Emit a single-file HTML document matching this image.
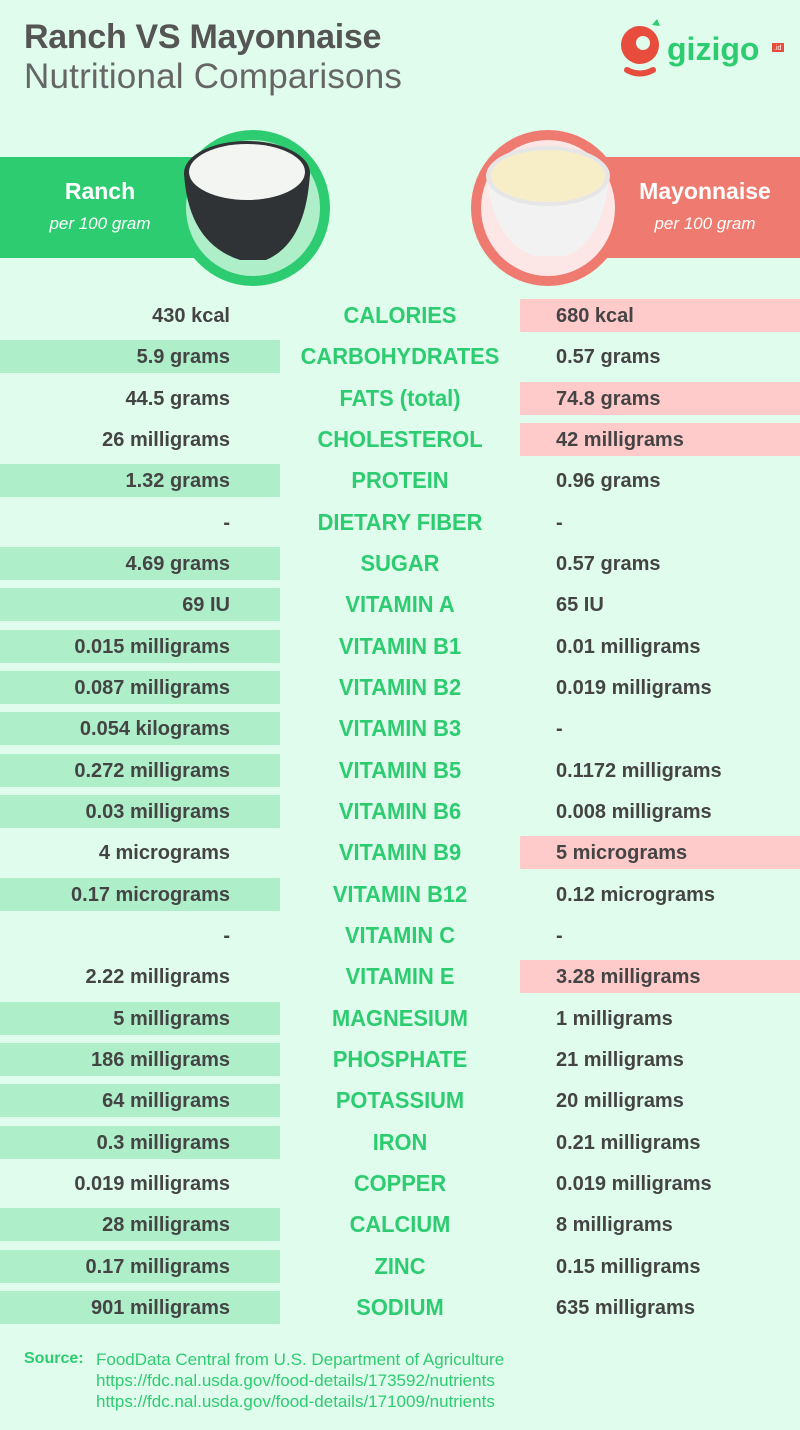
<!DOCTYPE html>
<html><head><meta charset="utf-8"><style>
body{margin:0;width:800px;height:1430px;background:#dffcec;position:relative;overflow:hidden;font-family:"Liberation Sans",sans-serif;}
.a{position:absolute;}
.t1{left:24px;top:18px;font-size:34px;font-weight:bold;color:#555;letter-spacing:-0.3px}
.t2{left:24px;top:57px;font-size:35px;color:#666;letter-spacing:0.2px}
.bl{left:0;width:280px;height:33px;background:#aeeec9}
.br{left:520px;width:280px;height:33px;background:#ffcaca}
.lv{left:0;width:230px;text-align:right;font-size:20px;font-weight:bold;color:#444;line-height:33px}
.rv{left:556px;font-size:20px;font-weight:bold;color:#444;line-height:33px}
.c{left:280px;width:240px;text-align:center;font-size:23px;font-weight:bold;color:#2ecc71;line-height:33px;transform:scaleX(0.95)}
</style></head><body>
<div class="a t1">Ranch VS Mayonnaise</div>
<div class="a t2">Nutritional Comparisons</div>
<svg class="a" style="left:615px;top:15px" width="180" height="70">
<circle cx="25" cy="30" r="19" fill="#e74c3c"/><circle cx="28" cy="28" r="7" fill="#dffcec"/>
<path d="M12 55 Q25 62 38 55" stroke="#e74c3c" stroke-width="6" fill="none" stroke-linecap="round"/>
<path d="M37 10 l5 -6 l3 7z" fill="#2ecc71"/>
<text x="52" y="45" font-family="Liberation Sans,sans-serif" font-weight="bold" font-size="32" fill="#2ecc71">gizigo</text>
<rect x="157" y="28" width="12" height="9" fill="#e74c3c"/><text x="159" y="35" font-size="7" fill="#fff" font-family="Liberation Sans">.id</text>
</svg>
<div class="a" style="left:0;top:157px;width:200px;height:101px;background:#2ecc71"></div>
<div class="a" style="left:600px;top:157px;width:200px;height:101px;background:#ef7b70"></div>
<div class="a" style="left:0;top:178px;width:200px;text-align:center;color:#fff;font-size:23px;font-weight:bold">Ranch</div>
<div class="a" style="left:0;top:214px;width:200px;text-align:center;color:#fff;font-size:17px;font-style:italic">per 100 gram</div>
<div class="a" style="left:605px;top:178px;width:200px;text-align:center;color:#fff;font-size:23px;font-weight:bold">Mayonnaise</div>
<div class="a" style="left:605px;top:214px;width:200px;text-align:center;color:#fff;font-size:17px;font-style:italic">per 100 gram</div>
<svg class="a" style="left:170px;top:128px" width="170" height="160">
<ellipse cx="83" cy="80" rx="77" ry="78" fill="#2ecc71"/><ellipse cx="83" cy="80" rx="67" ry="68" fill="#aeeec9"/>
<path d="M14 45 Q18 115 70 132 L96 132 Q136 115 140 45 Z" fill="#2f3335"/>
<ellipse cx="77" cy="45" rx="63" ry="32" fill="#2f3335"/><ellipse cx="77" cy="44" rx="58" ry="28" fill="#f2f5f2"/>
</svg>
<svg class="a" style="left:465px;top:128px" width="170" height="160">
<ellipse cx="83" cy="80" rx="77" ry="78" fill="#ef7b70"/><ellipse cx="83" cy="80" rx="67" ry="68" fill="#fde6e6"/>
<path d="M22 48 Q28 115 70 128 L100 128 Q138 115 144 48 Z" fill="#f2f2f2"/>
<ellipse cx="83" cy="48" rx="62" ry="30" fill="#e6e6e6"/><ellipse cx="83" cy="48" rx="57" ry="26" fill="#f7eec8"/>
</svg>
<div id="rows"></div>
<div class="a" style="left:24px;top:1350px;font-size:16px;color:#2ecc71;font-weight:bold">Source:</div>
<div class="a" style="left:96px;top:1349px;font-size:17px;color:#2ecc71;line-height:21px">FoodData Central from U.S. Department of Agriculture<br>https://fdc.nal.usda.gov/food-details/173592/nutrients<br>https://fdc.nal.usda.gov/food-details/171009/nutrients</div>
<script>
var d=[["430 kcal","CALORIES","680 kcal","r"],["5.9 grams","CARBOHYDRATES","0.57 grams","l"],["44.5 grams","FATS (total)","74.8 grams","r"],["26 milligrams","CHOLESTEROL","42 milligrams","r"],["1.32 grams","PROTEIN","0.96 grams","l"],["-","DIETARY FIBER","-",""],["4.69 grams","SUGAR","0.57 grams","l"],["69 IU","VITAMIN A","65 IU","l"],["0.015 milligrams","VITAMIN B1","0.01 milligrams","l"],["0.087 milligrams","VITAMIN B2","0.019 milligrams","l"],["0.054 kilograms","VITAMIN B3","-","l"],["0.272 milligrams","VITAMIN B5","0.1172 milligrams","l"],["0.03 milligrams","VITAMIN B6","0.008 milligrams","l"],["4 micrograms","VITAMIN B9","5 micrograms","r"],["0.17 micrograms","VITAMIN B12","0.12 micrograms","l"],["-","VITAMIN C","-",""],["2.22 milligrams","VITAMIN E","3.28 milligrams","r"],["5 milligrams","MAGNESIUM","1 milligrams","l"],["186 milligrams","PHOSPHATE","21 milligrams","l"],["64 milligrams","POTASSIUM","20 milligrams","l"],["0.3 milligrams","IRON","0.21 milligrams","l"],["0.019 milligrams","COPPER","0.019 milligrams",""],["28 milligrams","CALCIUM","8 milligrams","l"],["0.17 milligrams","ZINC","0.15 milligrams","l"],["901 milligrams","SODIUM","635 milligrams","l"]];
var h="";d.forEach(function(r,i){var y=(299+i*41.33);var ys=y.toFixed(1);
if(r[3]=="l")h+='<div class="a bl" style="top:'+ys+'px"></div>';
if(r[3]=="r")h+='<div class="a br" style="top:'+ys+'px"></div>';
h+='<div class="a lv" style="top:'+(y+1).toFixed(1)+'px">'+r[0]+'</div><div class="a c" style="top:'+ys+'px">'+r[1]+'</div><div class="a rv" style="top:'+(y+1).toFixed(1)+'px">'+r[2]+'</div>';});
document.getElementById("rows").innerHTML=h;
</script>
</body></html>
